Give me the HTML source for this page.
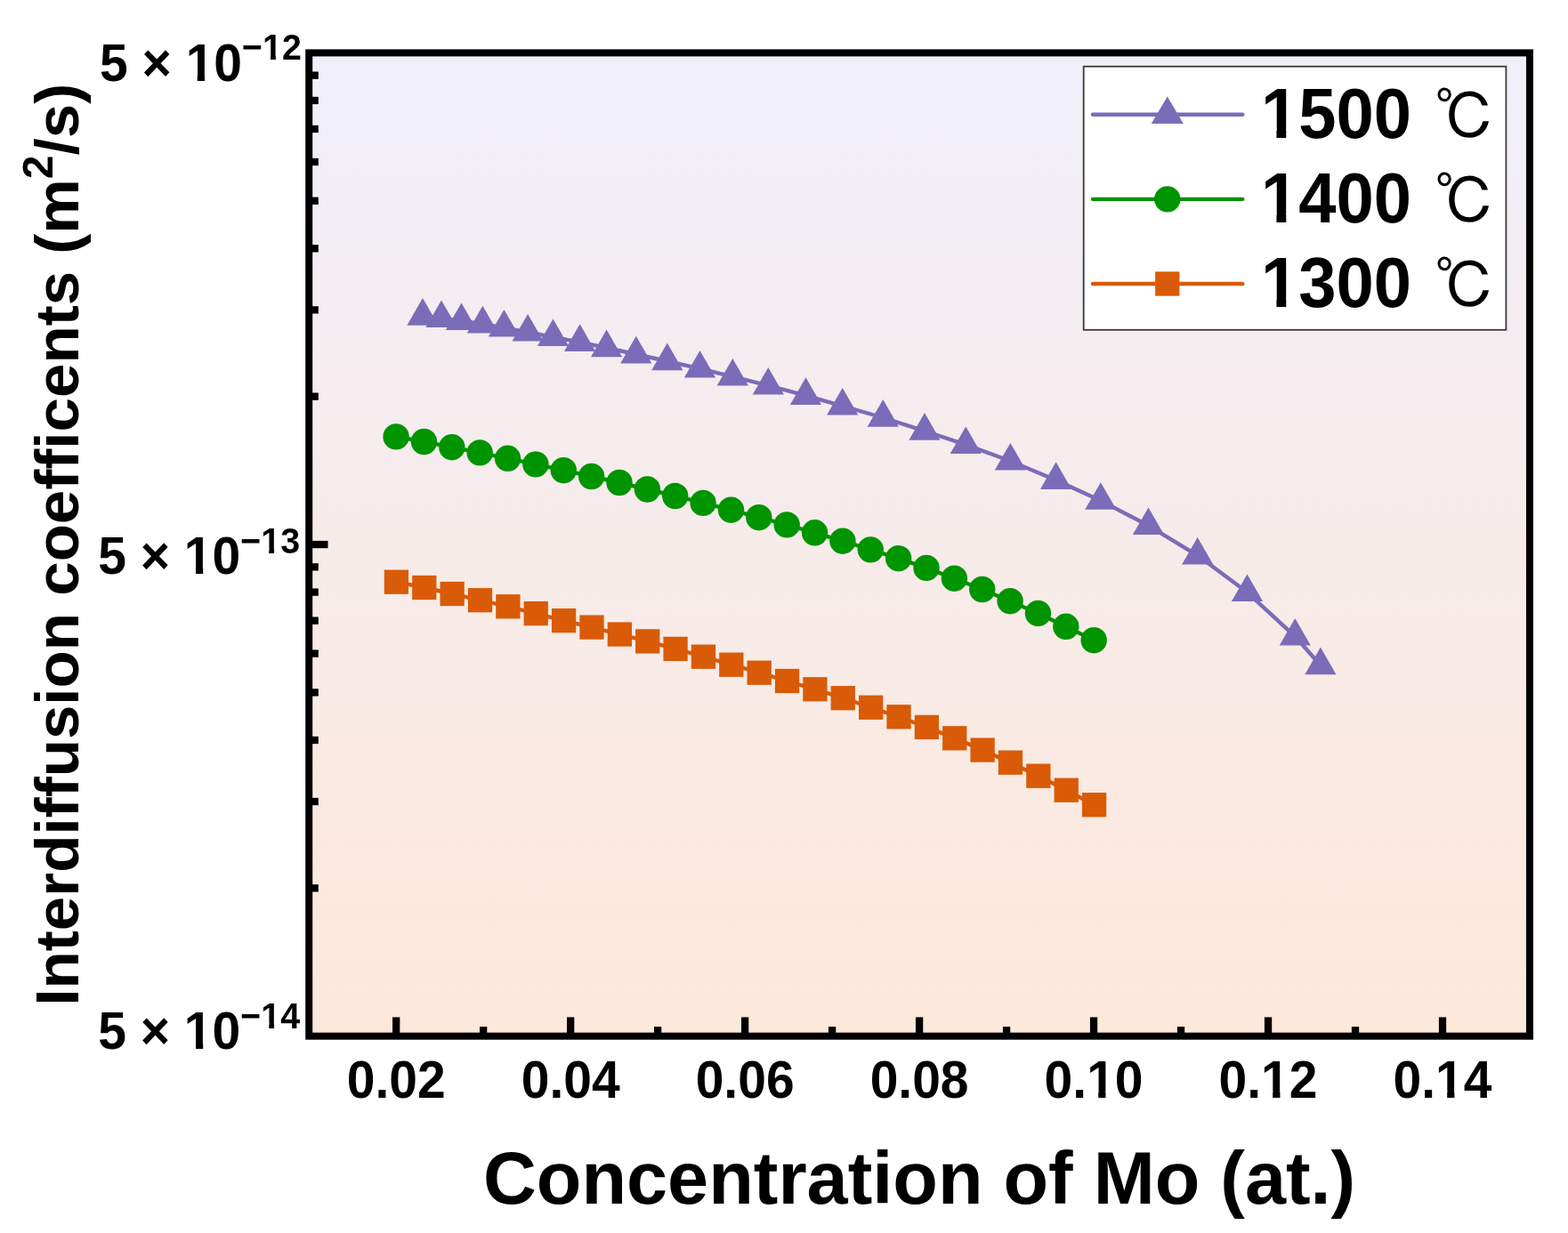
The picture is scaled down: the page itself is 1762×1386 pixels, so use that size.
<!DOCTYPE html>
<html lang="en"><head><meta charset="utf-8"><title>Interdiffusion coefficients vs concentration of Mo</title>
<style>html,body{margin:0;padding:0;background:#fff;}body{width:1762px;height:1386px;overflow:hidden;}svg{display:block;}text{font-family:"Liberation Sans","Arial",sans-serif;font-weight:bold;fill:#000;}.deg{font-family:"IPAGothic","Noto Serif CJK SC",serif;font-weight:normal;}</style></head><body>
<svg width="1762" height="1386" viewBox="0 0 1762 1386">
<defs><linearGradient id="bg" x1="0" y1="0" x2="0" y2="1"><stop offset="0" stop-color="#f0effa"/><stop offset="1" stop-color="#fee8da"/></linearGradient></defs>
<rect x="0" y="0" width="1762" height="1386" fill="#fff"/>
<rect x="347.2" y="59.4" width="1371.8" height="1105.3" fill="url(#bg)"/>
<g id="s1300"><polyline fill="none" stroke="#d95b07" stroke-width="4.4" stroke-linejoin="round" stroke-linecap="round" points="445.4,654.2 476.77,660.5 508.14,667.5 539.5,674.7 570.87,681.8 602.24,689.6 633.61,697.6 664.98,705.1 696.34,713.05 727.71,720.9 759.08,729.4 790.45,738.2 821.82,747.2 853.18,756.2 884.55,765.5 915.92,774.8 947.29,784.7 978.66,795.25 1010.02,805.8 1041.39,817.4 1072.76,829.8 1104.13,843.1 1135.5,857.2 1166.86,872.2 1198.23,888.2 1229.6,904.7"/>
<rect x="431.75" y="640.55" width="27.3" height="27.3" fill="#d95b07"/>
<rect x="463.12" y="646.85" width="27.3" height="27.3" fill="#d95b07"/>
<rect x="494.49" y="653.85" width="27.3" height="27.3" fill="#d95b07"/>
<rect x="525.85" y="661.05" width="27.3" height="27.3" fill="#d95b07"/>
<rect x="557.22" y="668.15" width="27.3" height="27.3" fill="#d95b07"/>
<rect x="588.59" y="675.95" width="27.3" height="27.3" fill="#d95b07"/>
<rect x="619.96" y="683.95" width="27.3" height="27.3" fill="#d95b07"/>
<rect x="651.33" y="691.45" width="27.3" height="27.3" fill="#d95b07"/>
<rect x="682.69" y="699.4" width="27.3" height="27.3" fill="#d95b07"/>
<rect x="714.06" y="707.25" width="27.3" height="27.3" fill="#d95b07"/>
<rect x="745.43" y="715.75" width="27.3" height="27.3" fill="#d95b07"/>
<rect x="776.8" y="724.55" width="27.3" height="27.3" fill="#d95b07"/>
<rect x="808.17" y="733.55" width="27.3" height="27.3" fill="#d95b07"/>
<rect x="839.53" y="742.55" width="27.3" height="27.3" fill="#d95b07"/>
<rect x="870.9" y="751.85" width="27.3" height="27.3" fill="#d95b07"/>
<rect x="902.27" y="761.15" width="27.3" height="27.3" fill="#d95b07"/>
<rect x="933.64" y="771.05" width="27.3" height="27.3" fill="#d95b07"/>
<rect x="965.01" y="781.6" width="27.3" height="27.3" fill="#d95b07"/>
<rect x="996.37" y="792.15" width="27.3" height="27.3" fill="#d95b07"/>
<rect x="1027.74" y="803.75" width="27.3" height="27.3" fill="#d95b07"/>
<rect x="1059.11" y="816.15" width="27.3" height="27.3" fill="#d95b07"/>
<rect x="1090.48" y="829.45" width="27.3" height="27.3" fill="#d95b07"/>
<rect x="1121.85" y="843.55" width="27.3" height="27.3" fill="#d95b07"/>
<rect x="1153.21" y="858.55" width="27.3" height="27.3" fill="#d95b07"/>
<rect x="1184.58" y="874.55" width="27.3" height="27.3" fill="#d95b07"/>
<rect x="1215.95" y="891.05" width="27.3" height="27.3" fill="#d95b07"/>
</g>
<g id="s1400"><polyline fill="none" stroke="#009400" stroke-width="4.4" stroke-linejoin="round" stroke-linecap="round" points="445.1,490.9 476.46,496.5 507.83,502.7 539.19,508.9 570.56,515.3 601.92,521.9 633.28,528.7 664.65,535.5 696.01,542.5 727.38,550 758.74,557.5 790.1,565.4 821.47,573.2 852.83,581.7 884.2,589.9 915.56,598.8 946.92,608.2 978.29,617.85 1009.65,627.7 1041.02,638.4 1072.38,650.2 1103.74,662.5 1135.11,675.7 1166.47,689.4 1197.84,704.3 1229.2,719.7"/>
<circle cx="445.1" cy="490.9" r="14.7" fill="#009400"/>
<circle cx="476.46" cy="496.5" r="14.7" fill="#009400"/>
<circle cx="507.83" cy="502.7" r="14.7" fill="#009400"/>
<circle cx="539.19" cy="508.9" r="14.7" fill="#009400"/>
<circle cx="570.56" cy="515.3" r="14.7" fill="#009400"/>
<circle cx="601.92" cy="521.9" r="14.7" fill="#009400"/>
<circle cx="633.28" cy="528.7" r="14.7" fill="#009400"/>
<circle cx="664.65" cy="535.5" r="14.7" fill="#009400"/>
<circle cx="696.01" cy="542.5" r="14.7" fill="#009400"/>
<circle cx="727.38" cy="550" r="14.7" fill="#009400"/>
<circle cx="758.74" cy="557.5" r="14.7" fill="#009400"/>
<circle cx="790.1" cy="565.4" r="14.7" fill="#009400"/>
<circle cx="821.47" cy="573.2" r="14.7" fill="#009400"/>
<circle cx="852.83" cy="581.7" r="14.7" fill="#009400"/>
<circle cx="884.2" cy="589.9" r="14.7" fill="#009400"/>
<circle cx="915.56" cy="598.8" r="14.7" fill="#009400"/>
<circle cx="946.92" cy="608.2" r="14.7" fill="#009400"/>
<circle cx="978.29" cy="617.85" r="14.7" fill="#009400"/>
<circle cx="1009.65" cy="627.7" r="14.7" fill="#009400"/>
<circle cx="1041.02" cy="638.4" r="14.7" fill="#009400"/>
<circle cx="1072.38" cy="650.2" r="14.7" fill="#009400"/>
<circle cx="1103.74" cy="662.5" r="14.7" fill="#009400"/>
<circle cx="1135.11" cy="675.7" r="14.7" fill="#009400"/>
<circle cx="1166.47" cy="689.4" r="14.7" fill="#009400"/>
<circle cx="1197.84" cy="704.3" r="14.7" fill="#009400"/>
<circle cx="1229.2" cy="719.7" r="14.7" fill="#009400"/>
</g>
<g id="s1500"><polyline fill="none" stroke="#7a6cb8" stroke-width="4.4" stroke-linejoin="round" stroke-linecap="round" points="475,355.5 496,357.9 518.5,360.8 542.4,364.2 566.4,368.4 593.1,373.3 621.5,378.9 651.6,384.7 681.6,391 714.8,398.25 749.8,406 786.5,414.4 823.3,423.4 863.3,433.4 905.5,444.7 946.7,456.4 992.3,469.5 1039,484.5 1085.3,499.8 1135.4,518.3 1186.6,539.7 1236.85,562.65 1290.5,590.9 1345.7,624.3 1401.5,665.8 1455.3,715.3 1483.9,748"/>
<polygon points="475,335.1 492.6,365.7 457.4,365.7" fill="#7a6cb8"/>
<polygon points="496,337.5 513.6,368.1 478.4,368.1" fill="#7a6cb8"/>
<polygon points="518.5,340.4 536.1,371 500.9,371" fill="#7a6cb8"/>
<polygon points="542.4,343.8 560,374.4 524.8,374.4" fill="#7a6cb8"/>
<polygon points="566.4,348 584,378.6 548.8,378.6" fill="#7a6cb8"/>
<polygon points="593.1,352.9 610.7,383.5 575.5,383.5" fill="#7a6cb8"/>
<polygon points="621.5,358.5 639.1,389.1 603.9,389.1" fill="#7a6cb8"/>
<polygon points="651.6,364.3 669.2,394.9 634,394.9" fill="#7a6cb8"/>
<polygon points="681.6,370.6 699.2,401.2 664,401.2" fill="#7a6cb8"/>
<polygon points="714.8,377.85 732.4,408.45 697.2,408.45" fill="#7a6cb8"/>
<polygon points="749.8,385.6 767.4,416.2 732.2,416.2" fill="#7a6cb8"/>
<polygon points="786.5,394 804.1,424.6 768.9,424.6" fill="#7a6cb8"/>
<polygon points="823.3,403 840.9,433.6 805.7,433.6" fill="#7a6cb8"/>
<polygon points="863.3,413 880.9,443.6 845.7,443.6" fill="#7a6cb8"/>
<polygon points="905.5,424.3 923.1,454.9 887.9,454.9" fill="#7a6cb8"/>
<polygon points="946.7,436 964.3,466.6 929.1,466.6" fill="#7a6cb8"/>
<polygon points="992.3,449.1 1009.9,479.7 974.7,479.7" fill="#7a6cb8"/>
<polygon points="1039,464.1 1056.6,494.7 1021.4,494.7" fill="#7a6cb8"/>
<polygon points="1085.3,479.4 1102.9,510 1067.7,510" fill="#7a6cb8"/>
<polygon points="1135.4,497.9 1153,528.5 1117.8,528.5" fill="#7a6cb8"/>
<polygon points="1186.6,519.3 1204.2,549.9 1169,549.9" fill="#7a6cb8"/>
<polygon points="1236.85,542.25 1254.45,572.85 1219.25,572.85" fill="#7a6cb8"/>
<polygon points="1290.5,570.5 1308.1,601.1 1272.9,601.1" fill="#7a6cb8"/>
<polygon points="1345.7,603.9 1363.3,634.5 1328.1,634.5" fill="#7a6cb8"/>
<polygon points="1401.5,645.4 1419.1,676 1383.9,676" fill="#7a6cb8"/>
<polygon points="1455.3,694.9 1472.9,725.5 1437.7,725.5" fill="#7a6cb8"/>
<polygon points="1483.9,727.6 1501.5,758.2 1466.3,758.2" fill="#7a6cb8"/>
</g>
<g stroke="#000" stroke-width="8.3" fill="none">
<line x1="445.19" y1="1164.7" x2="445.19" y2="1143.4"/>
<line x1="641.16" y1="1164.7" x2="641.16" y2="1143.4"/>
<line x1="837.13" y1="1164.7" x2="837.13" y2="1143.4"/>
<line x1="1033.1" y1="1164.7" x2="1033.1" y2="1143.4"/>
<line x1="1229.07" y1="1164.7" x2="1229.07" y2="1143.4"/>
<line x1="1425.04" y1="1164.7" x2="1425.04" y2="1143.4"/>
<line x1="1621.01" y1="1164.7" x2="1621.01" y2="1143.4"/>
<line x1="543.17" y1="1164.7" x2="543.17" y2="1154.1"/>
<line x1="739.14" y1="1164.7" x2="739.14" y2="1154.1"/>
<line x1="935.11" y1="1164.7" x2="935.11" y2="1154.1"/>
<line x1="1131.09" y1="1164.7" x2="1131.09" y2="1154.1"/>
<line x1="1327.06" y1="1164.7" x2="1327.06" y2="1154.1"/>
<line x1="1523.03" y1="1164.7" x2="1523.03" y2="1154.1"/>
<line x1="347.2" y1="998.34" x2="357.8" y2="998.34"/>
<line x1="347.2" y1="901.02" x2="357.8" y2="901.02"/>
<line x1="347.2" y1="831.97" x2="357.8" y2="831.97"/>
<line x1="347.2" y1="778.41" x2="357.8" y2="778.41"/>
<line x1="347.2" y1="734.65" x2="357.8" y2="734.65"/>
<line x1="347.2" y1="697.66" x2="357.8" y2="697.66"/>
<line x1="347.2" y1="665.61" x2="357.8" y2="665.61"/>
<line x1="347.2" y1="637.34" x2="357.8" y2="637.34"/>
<line x1="347.2" y1="445.69" x2="357.8" y2="445.69"/>
<line x1="347.2" y1="348.37" x2="357.8" y2="348.37"/>
<line x1="347.2" y1="279.32" x2="357.8" y2="279.32"/>
<line x1="347.2" y1="225.76" x2="357.8" y2="225.76"/>
<line x1="347.2" y1="182" x2="357.8" y2="182"/>
<line x1="347.2" y1="145.01" x2="357.8" y2="145.01"/>
<line x1="347.2" y1="112.96" x2="357.8" y2="112.96"/>
<line x1="347.2" y1="84.69" x2="357.8" y2="84.69"/>
<line x1="347.2" y1="612.05" x2="368.5" y2="612.05"/>
</g>
<rect x="347.2" y="59.4" width="1371.8" height="1105.3" fill="none" stroke="#000" stroke-width="8.0"/>
<g transform="translate(445.19,1233.8) scale(1,1.04)"><text font-size="57" text-anchor="middle">0.02</text></g>
<g transform="translate(641.16,1233.8) scale(1,1.04)"><text font-size="57" text-anchor="middle">0.04</text></g>
<g transform="translate(837.13,1233.8) scale(1,1.04)"><text font-size="57" text-anchor="middle">0.06</text></g>
<g transform="translate(1033.1,1233.8) scale(1,1.04)"><text font-size="57" text-anchor="middle">0.08</text></g>
<g transform="translate(1229.07,1233.8) scale(1,1.04)"><text font-size="57" text-anchor="middle">0.10</text><g fill="#fff"><rect x="-5.64" y="-7.42" width="10.81" height="8.92"/><rect x="13.39" y="-7.42" width="10.09" height="8.92"/></g></g>
<g transform="translate(1425.04,1233.8) scale(1,1.04)"><text font-size="57" text-anchor="middle">0.12</text><g fill="#fff"><rect x="-5.64" y="-7.42" width="10.81" height="8.92"/><rect x="13.39" y="-7.42" width="10.09" height="8.92"/></g></g>
<g transform="translate(1621.01,1233.8) scale(1,1.04)"><text font-size="57" text-anchor="middle">0.14</text><g fill="#fff"><rect x="-5.64" y="-7.42" width="10.81" height="8.92"/><rect x="13.39" y="-7.42" width="10.09" height="8.92"/></g></g>
<g transform="translate(112,90.6) scale(1,1.04)"><text font-size="57">5 × 10<tspan font-size="39.4" dy="-22.4">−12</tspan></text><g fill="#fff"><rect x="98.95" y="-7.42" width="10.81" height="8.92"/><rect x="117.99" y="-7.42" width="10.09" height="8.92"/><rect x="184.25" y="-28.02" width="7.81" height="7.12"/><rect x="197.87" y="-28.02" width="7.31" height="7.12"/></g></g>
<g transform="translate(110.2,645) scale(1,1.04)"><text font-size="57">5 × 10<tspan font-size="39.4" dy="-22.4">−13</tspan></text><g fill="#fff"><rect x="98.95" y="-7.42" width="10.81" height="8.92"/><rect x="117.99" y="-7.42" width="10.09" height="8.92"/><rect x="184.25" y="-28.02" width="7.81" height="7.12"/><rect x="197.87" y="-28.02" width="7.31" height="7.12"/></g></g>
<g transform="translate(110.2,1179) scale(1,1.04)"><text font-size="57">5 × 10<tspan font-size="39.4" dy="-22.4">−14</tspan></text><g fill="#fff"><rect x="98.95" y="-7.42" width="10.81" height="8.92"/><rect x="117.99" y="-7.42" width="10.09" height="8.92"/><rect x="184.25" y="-28.02" width="7.81" height="7.12"/><rect x="197.87" y="-28.02" width="7.31" height="7.12"/></g></g>
<text x="543.0" y="1353.4" font-size="82.85">Concentration of Mo (at.)</text>
<text transform="translate(87.8,1130.6) rotate(-90)" font-size="69.14">Interdiffusion coefficents (m<tspan font-size="48" dy="-28.8">2</tspan><tspan dy="28.8">/s)</tspan></text>
<rect x="1217.7" y="74.7" width="474.7" height="296.1" fill="#fff" stroke="#3a3a3a" stroke-width="1.8"/>
<line x1="1228" y1="128.8" x2="1396.3" y2="128.8" stroke="#7a6cb8" stroke-width="4.4" stroke-linecap="round"/>
<polygon points="1311.8,108.4 1329.8,139 1293.8,139" fill="#7a6cb8"/>
<g transform="translate(1416.9,154.6) scale(1,1.04)"><text font-size="76">1500</text><g fill="#fff"><rect x="3.49" y="-9.36" width="14.05" height="10.86"/><rect x="28.37" y="-9.36" width="13.09" height="10.86"/></g></g>
<text class="deg" transform="translate(1612.0,156.5) scale(1,1.03)" font-size="68.6">℃</text>
<line x1="1228" y1="223.85" x2="1396.3" y2="223.85" stroke="#009400" stroke-width="4.4" stroke-linecap="round"/>
<circle cx="1311.8" cy="223.85" r="14.7" fill="#009400"/>
<g transform="translate(1416.9,249.9) scale(1,1.04)"><text font-size="76">1400</text><g fill="#fff"><rect x="3.49" y="-9.36" width="14.05" height="10.86"/><rect x="28.37" y="-9.36" width="13.09" height="10.86"/></g></g>
<text class="deg" transform="translate(1612.0,251.8) scale(1,1.03)" font-size="68.6">℃</text>
<line x1="1228" y1="319" x2="1396.3" y2="319" stroke="#d95b07" stroke-width="4.4" stroke-linecap="round"/>
<rect x="1298.15" y="305.35" width="27.3" height="27.3" fill="#d95b07"/>
<g transform="translate(1416.9,345.2) scale(1,1.04)"><text font-size="76">1300</text><g fill="#fff"><rect x="3.49" y="-9.36" width="14.05" height="10.86"/><rect x="28.37" y="-9.36" width="13.09" height="10.86"/></g></g>
<text class="deg" transform="translate(1612.0,347.1) scale(1,1.03)" font-size="68.6">℃</text>
</svg></body></html>
